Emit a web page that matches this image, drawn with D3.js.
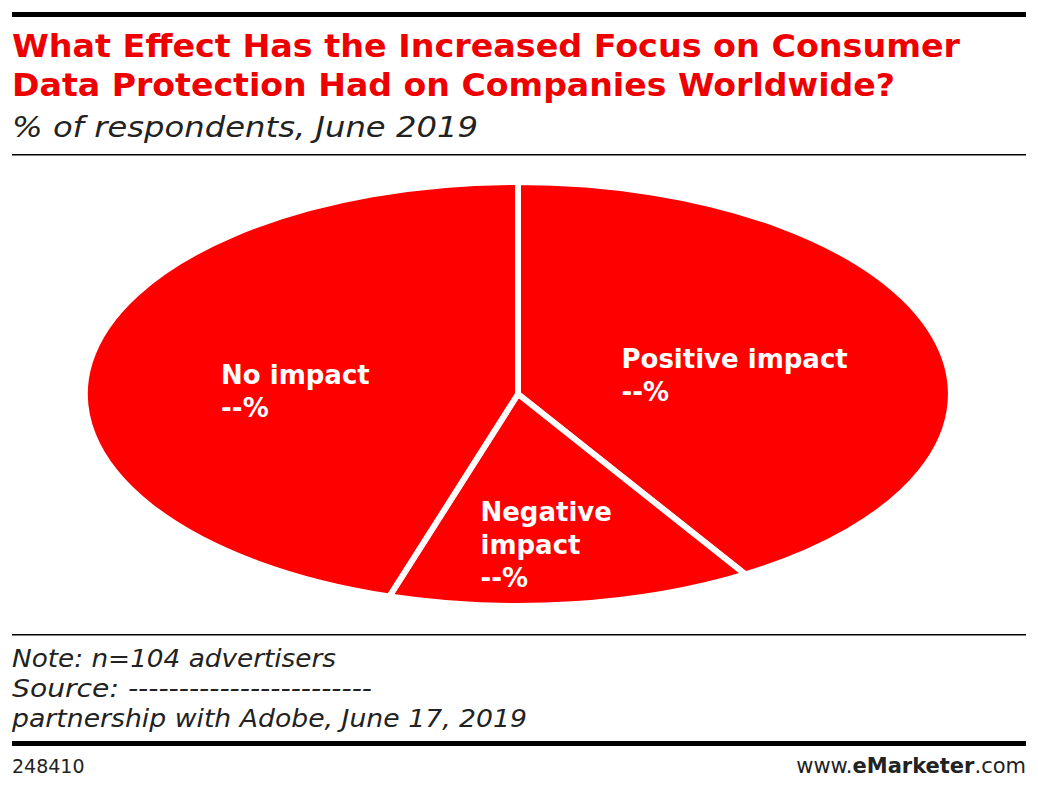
<!DOCTYPE html>
<html><head><meta charset="utf-8">
<script src="https://cdn.jsdelivr.net/npm/d3@7/dist/d3.min.js"></script>
<style>body{margin:0;background:#fff}svg{font-family:"DejaVu Sans",sans-serif}</style>
</head><body><svg id="c" width="1038" height="791"></svg>
<script>
const categories = ["Positive impact", "Negative impact", "No impact"];
const labelLines = [["Positive impact"], ["Negative", "impact"], ["No impact"]];
const values = [41.2, 13.6, 45.2];
const valueText = ["--%", "--%", "--%"];

const svg = d3.select("#c");
const W = 1038;

svg.append("rect").attr("x", 12).attr("y", 12).attr("width", W - 24).attr("height", 5).attr("fill", "#000");
svg.append("text").attr("x", 12).attr("y", 57).attr("fill", "#e00").attr("font-size", 32).attr("font-weight", 700)
  .attr("textLength", 948).attr("lengthAdjust", "spacingAndGlyphs")
  .text("What Effect Has the Increased Focus on Consumer");
svg.append("text").attr("x", 12).attr("y", 96).attr("fill", "#e00").attr("font-size", 32).attr("font-weight", 700)
  .attr("textLength", 883).attr("lengthAdjust", "spacingAndGlyphs")
  .text("Data Protection Had on Companies Worldwide?");
svg.append("text").attr("x", 12).attr("y", 137).attr("font-size", 28).attr("font-style", "italic").attr("fill", "#222")
  .attr("textLength", 466).attr("lengthAdjust", "spacingAndGlyphs")
  .text("% of respondents, June 2019");
svg.append("rect").attr("x", 12).attr("y", 154).attr("width", W - 24).attr("height", 1.5).attr("fill", "#000");

const cx = 518, cy = 394, rx = 433, ry = 212;
const pie = d3.pie().sort(null).value(d => d);
const arcs = pie(values);
const arc = d3.arc().innerRadius(0).outerRadius(1);

const g = svg.append("g").attr("transform", `translate(${cx},${cy}) scale(${rx},${ry})`);
g.selectAll("path").data(arcs).join("path")
  .attr("d", arc)
  .attr("fill", "#f00")
  .attr("stroke", "#fff")
  .attr("stroke-width", 6)
  .attr("stroke-linejoin", "round")
  .attr("vector-effect", "non-scaling-stroke");

const labelArc = d3.arc().innerRadius(0.52).outerRadius(0.52);
const lg = svg.append("g");
arcs.forEach((a, i) => {
  const [ux, uy] = labelArc.centroid(a);
  const lines = labelLines[i].concat([valueText[i]]);
  const t = lg.append("text").attr("fill", "#fff").attr("font-size", 26).attr("font-weight", 700);
  lines.forEach((l, j) => t.append("tspan").attr("x", 0).attr("dy", j ? 33 : 0).text(l));
  const bb = t.node().getBBox();
  const x = cx + ux * rx - bb.width / 2;
  const y = cy + uy * ry * 1.22 - bb.height / 2 - bb.y + 18;
  t.attr("transform", `translate(${x},${y})`);
});

svg.append("rect").attr("x", 12).attr("y", 634).attr("width", W - 24).attr("height", 1.5).attr("fill", "#000");
const notes = ["Note: n=104 advertisers", "Source: ------------------------", "partnership with Adobe, June 17, 2019"];
const noteW = [324, 360, 515];
notes.forEach((s, i) =>
  svg.append("text").attr("x", 12).attr("y", 667 + i * 30).attr("font-size", 24).attr("font-style", "italic").attr("fill", "#222")
    .attr("textLength", noteW[i]).attr("lengthAdjust", "spacingAndGlyphs").text(s));
svg.append("rect").attr("x", 12).attr("y", 741).attr("width", W - 24).attr("height", 5).attr("fill", "#000");
svg.append("text").attr("x", 12).attr("y", 773).attr("font-size", 19).attr("fill", "#222").text("248410");
const ft = svg.append("text").attr("x", W - 12).attr("y", 773).attr("font-size", 21).attr("text-anchor", "end").attr("fill", "#222");
ft.append("tspan").text("www.");
ft.append("tspan").attr("font-weight", 700).text("eMarketer");
ft.append("tspan").text(".com");
</script></body></html>
